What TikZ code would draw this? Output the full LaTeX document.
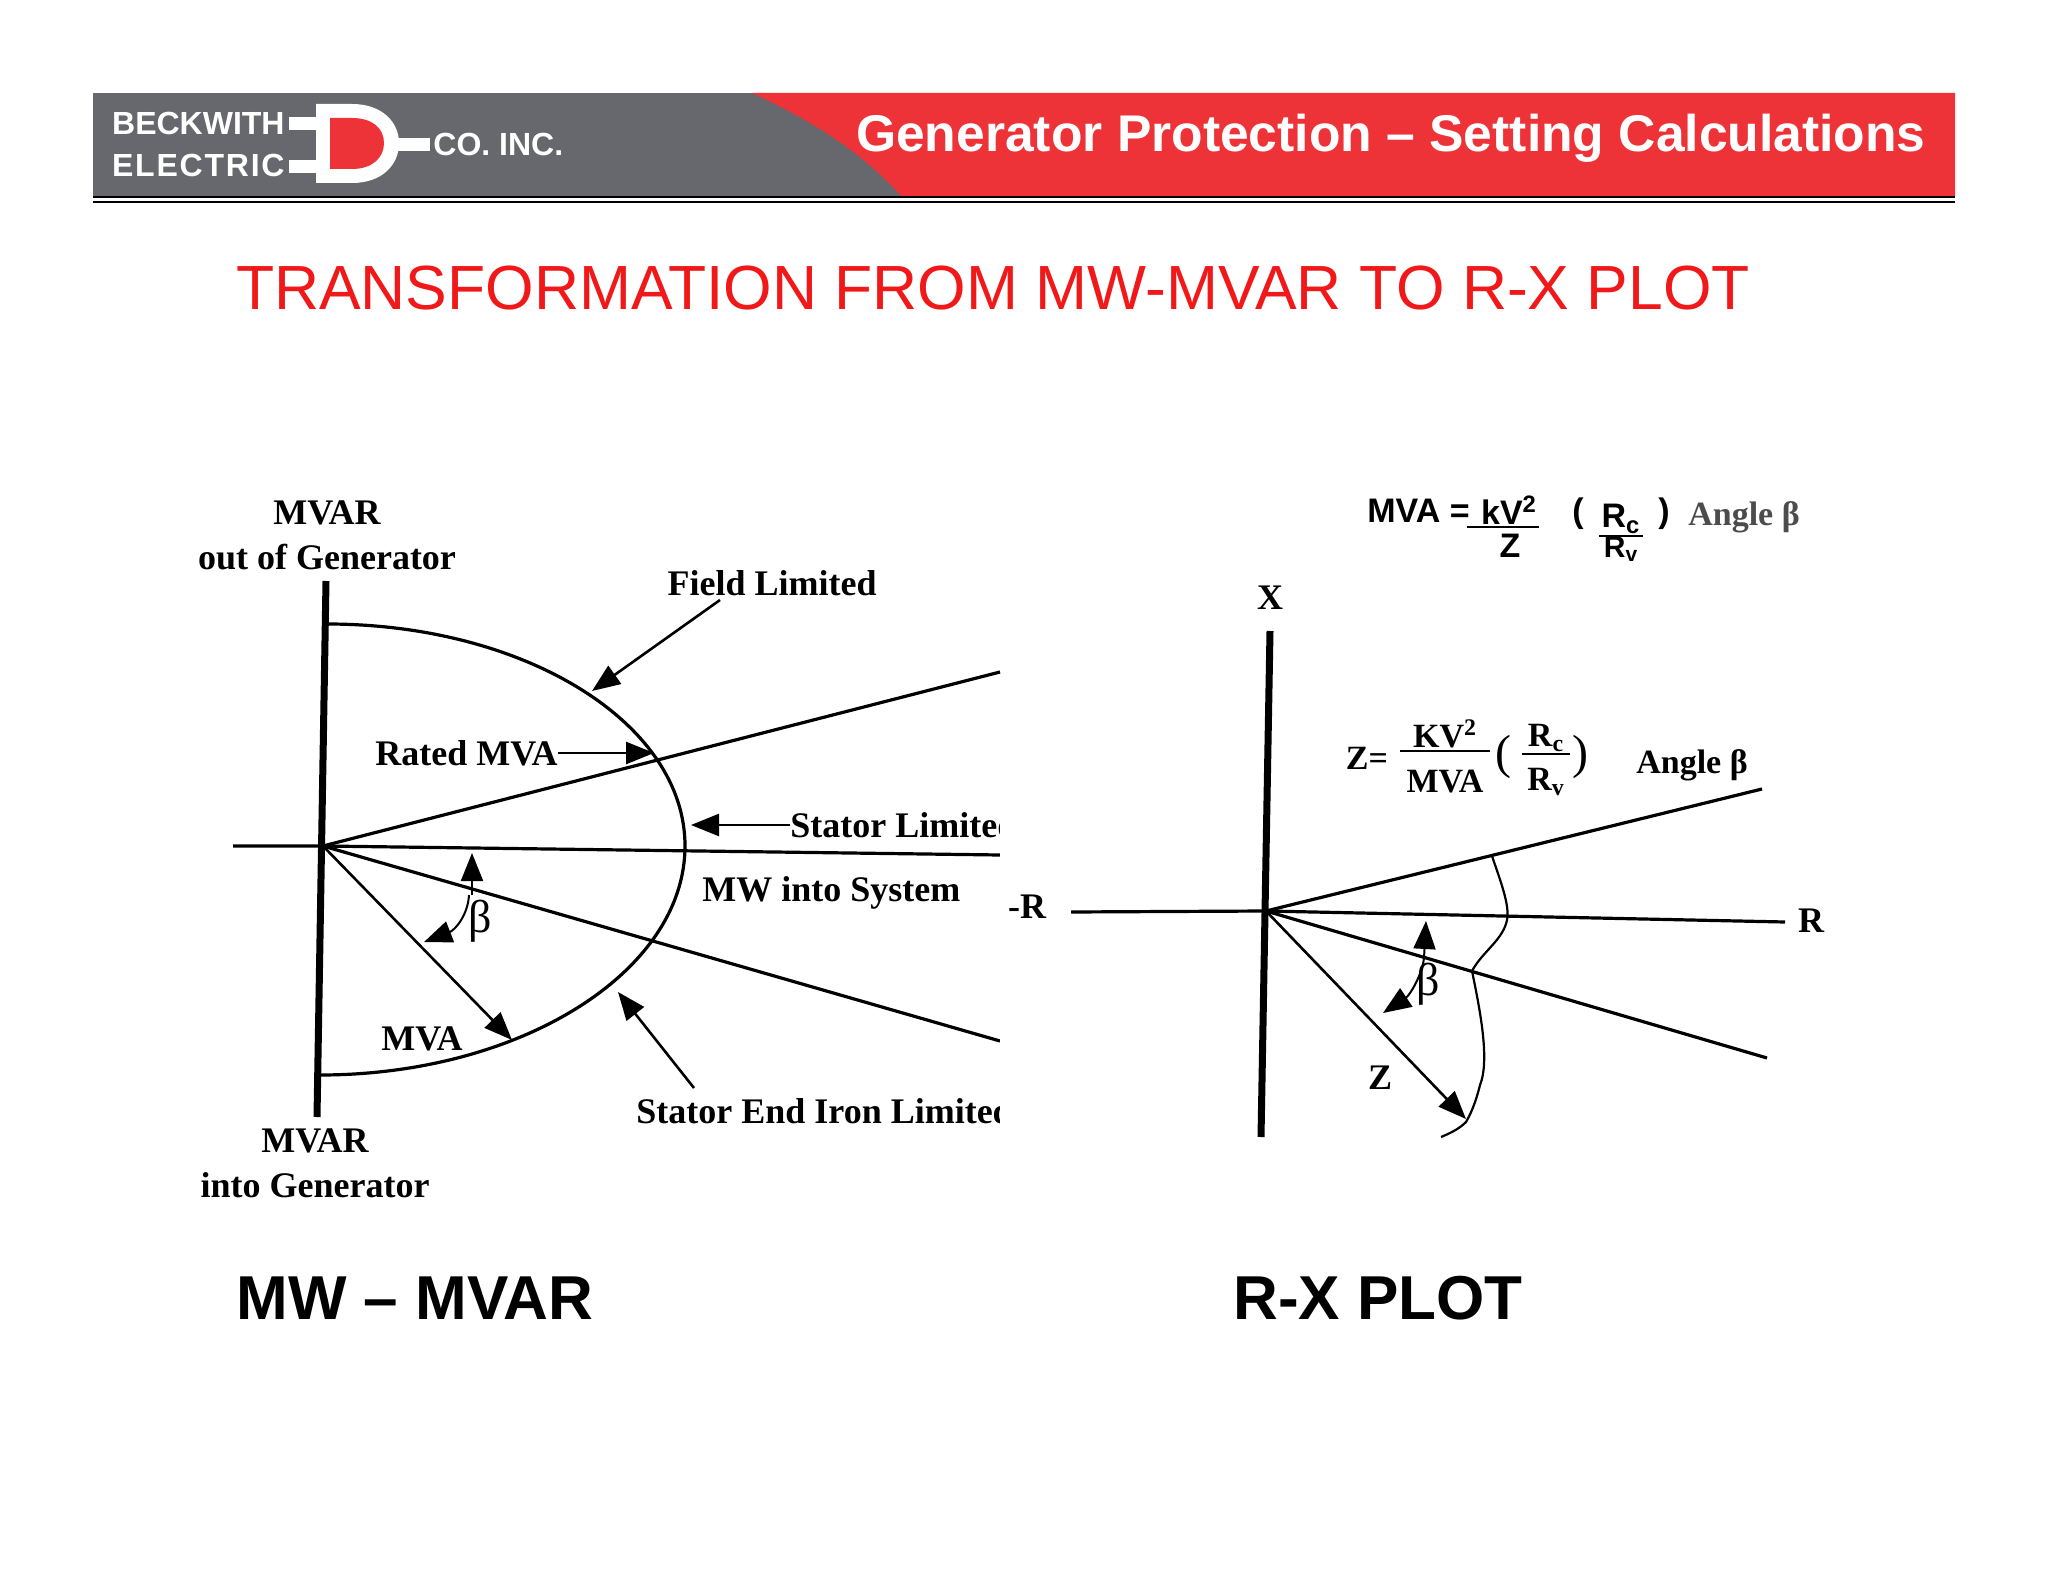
\documentclass[tikz,border=0pt]{standalone}
\usepackage{fontspec}
\setmainfont{Liberation Serif}
\setsansfont{Liberation Sans}
\usetikzlibrary{positioning, arrows.meta}
\definecolor{bannergray}{HTML}{66686D}
\definecolor{bannerred}{HTML}{EE3338}
\definecolor{titlered}{HTML}{F01818}
\tikzset{
	lab/.style={
		inner sep=0pt,
		font=\fontsize{18}{18}\selectfont\bfseries,
	},
	anglelab/.style={
		inner sep=0pt,
		font=\fontsize{17}{17}\selectfont\bfseries,
	},
	logotext/.style={
		inner sep=0pt,
		text=white,
		font=\fontsize{16}{16}\selectfont\sffamily\bfseries,
	},
	sanslab/.style={
		inner sep=0pt,
		font=\fontsize{17}{17}\selectfont\sffamily\bfseries,
	},
	caption/.style={
		inner sep=0pt,
		anchor=west,
		font=\fontsize{31}{31}\selectfont\sffamily\bfseries,
	},
	axis/.style={
		line width=3.5pt,
	},
	ray/.style={
		line width=1.6pt,
	},
	thin ray/.style={
		line width=1.1pt,
	},
	pointer/.style={
		line width=1.3pt,
		-{Stealth[length=14pt,width=11pt,inset=0pt]},
	},
	pin/.style={
		fill=white,
		draw=none,
	},
}

\begin{document}
\begin{tikzpicture}[x=0.5pt, y=-0.5pt, >=stealth]
		\useasboundingbox (0,0) rectangle (2048,1582);
		% banner
		\fill [bannergray] (93,93) rectangle (1955,196);
		\fill [bannerred] (752,93) -- (1955,93) -- (1955,196) -- (901,196) .. controls (860,150) and (810,120) .. (752,93) -- cycle;
		\fill [black] (93,196) rectangle (1955,198);
		\fill [black] (93,201) rectangle (1955,203.5);
		\fill [pin] (289,117) rectangle (320,130);
		\fill [pin] (289,160) rectangle (320,173);
		\fill [pin] (395,138) rectangle (430,151);
		\fill [pin] (316,104) -- (352,104) .. controls (382,104) and (399,122) .. (399,143) .. controls (399,165) and (382,183) .. (352,183) -- (316,183) -- cycle;
		\fill [bannerred] (330,118) -- (352,118) .. controls (372,118) and (384,128) .. (384,143) .. controls (384,158) and (372,169) .. (352,169) -- (330,169) -- cycle;
		\node [logotext, anchor=east] (beck) at (285,123) {BECKWITH};
		\node [logotext, anchor=east] (elec) at (285,165) {\addfontfeature{LetterSpace=5.6}ELECTRIC};
		\node [logotext, anchor=west] (coinc) at (433,144) {CO. INC.};
		\node [inner sep=0pt, anchor=east, text=white, font=\fontsize{25.8}{25.8}\selectfont\sffamily\bfseries] (head) at (1926,138) {Generator Protection -- Setting Calculations};
		\node [inner sep=0pt, text=titlered, font=\fontsize{31.2}{31.2}\selectfont\sffamily] (title) at (993,288) {TRANSFORMATION FROM MW-MVAR TO R-X PLOT};

		% MW-MVAR plot
		\coordinate (o1) at (323,846);
		\coordinate (top1) at (326,581);
		\coordinate (bot1) at (317,1117);
		\coordinate (west1) at (233,846);
		\coordinate (east1) at (1000,855);
		\coordinate (up1) at (1000,672);
		\coordinate (down1) at (1000,1041);
		\coordinate (cap1) at (512,1040);
		\draw [axis] (top1) -- (bot1);
		\draw [ray] (west1) -- (o1) -- (east1);
		\draw [ray] (o1) -- (up1);
		\draw [ray] (o1) -- (down1);
		\draw [ray] (327,624) .. controls (525,624) and (685,723) .. (685,846) .. controls (685,972) and (520,1075) .. (320,1075);
		\draw [pointer] (o1) -- (cap1);
		\draw [pointer, line width=1pt] (472,895) -- (472,853);
		\draw [pointer, line width=1pt] (469,895) .. controls (468,915) and (455,930) .. (424,942);

		\node [lab] (mvar1) at (327,513) {MVAR};
		\node [lab, below of = mvar1, node distance=22pt] (outgen) {out of Generator};
		\node [lab] (mvar2) at (315,1141) {MVAR};
		\node [lab, below of = mvar2, node distance=22pt] (intogen) {into Generator};
		\node [lab] (field) at (772,583) {Field Limited};
		\node [lab, anchor=east] (rated) at (558,753) {Rated MVA};
		\node [lab, anchor=west] (stator) at (790,825) {Stator Limited};
		\node [lab, anchor=west] (mwinto) at (702,893) {MW into System};
		\node [lab] (mva1) at (422,1039) {MVA};
		\node [lab, anchor=west] (endiron) at (636,1111) {Stator End Iron Limited};
		\node [inner sep=0pt, font=\fontsize{23}{23}\selectfont] (beta1) at (480,921) {β};
		\coordinate (fieldtip) at (592,691);
		\coordinate (ratedtip) at (654,758);
		\coordinate (statortip) at (691,822);
		\coordinate (irontip) at (618,992);
		\coordinate (ironfoot) at (694,1088);
		\draw [pointer] (720,600) -- (fieldtip);
		\draw [pointer] (rated.east) -- (rated.east -| ratedtip);
		\draw [pointer] (stator.west) -- (stator.west -| statortip);
		\draw [pointer] (ironfoot) -- (irontip);
		% the scan stops here
		\fill [white] (1000,780) rectangle (1040,1140);

		% R-X plot
		\coordinate (o2) at (1266,911);
		\coordinate (top2) at (1270,631);
		\coordinate (bot2) at (1261,1137);
		\coordinate (west2) at (1071,912);
		\coordinate (east2) at (1785,922);
		\coordinate (up2) at (1762,789);
		\coordinate (down2) at (1767,1058);
		\coordinate (cap2) at (1466,1119);
		\draw [axis] (top2) -- (bot2);
		\draw [ray] (west2) -- (o2) -- (east2);
		\draw [ray] (o2) -- (up2);
		\draw [ray] (o2) -- (down2);
		\draw [thin ray] (1492,856) .. controls (1500,880) and (1510,905) .. (1507,920) .. controls (1503,940) and (1482,952) .. (1472,971);
		\draw [thin ray] (1472,971) .. controls (1480,1010) and (1490,1060) .. (1480,1085) .. controls (1475,1105) and (1470,1115) .. (1466,1122) .. controls (1458,1130) and (1448,1134) .. (1441,1137);
		\draw [pointer] (o2) -- (cap2);
		\draw [pointer, line width=1pt] (1424,958) -- (1426,921);
		\draw [pointer, line width=1pt] (1424,958) .. controls (1422,975) and (1410,995) .. (1383,1013);

		\node [lab] (xlab) at (1270,598) {X};
		\node [lab] (mrlab) at (1027,907) {-R};
		\node [lab] (rlab) at (1811,921) {R};
		\node [lab] (zlab) at (1380,1078) {Z};
		\node [inner sep=0pt, font=\fontsize{23}{23}\selectfont] (beta2) at (1428,984) {β};
		\node [anglelab] (zeq) at (1367,758) {Z=};
		\node [anglelab, inner sep=1pt, minimum width=45pt] (kv) at (1445,734) {KV\textsuperscript{2}};
		\node [anglelab, below of = kv, node distance=24pt] (mvab) {MVA};
		\node [anglelab, minimum width=24pt, inner sep=1pt] (rc) at (1546,738) {R\textsubscript{c}};
		\node [anglelab, below of = rc, node distance=22pt] (rv) {R\textsubscript{v}};
		\node [lab, font=\fontsize{24}{24}\selectfont] (lp) at (1503,757) {(};
		\node [lab, font=\fontsize{24}{24}\selectfont] (rp) at (1580,757) {)};
		\node [anglelab] (angle2) at (1692,765) {Angle β};
		\draw [line width=1pt] (kv.south west) -- (kv.south east);
		\draw [line width=1pt] (rc.south west) -- (rc.south east);

		% formula on top
		\node [sanslab, anchor=west] (mvaeq) at (1367,511) {MVA =};
		\node [sanslab, minimum width=33pt, inner sep=1pt] (kv2) at (1503,510) {\hspace{6pt}kV\textsuperscript{2}};
		\node [sanslab, below of = kv2, node distance=18pt, xshift=3.5pt] (z2) {Z};
		\node [sanslab] (lp2) at (1578,514) {(};
		\node [sanslab, minimum width=17pt, inner sep=1pt] (rc2) at (1621,519) {R\textsubscript{c}};
		\node [inner sep=0pt, font=\fontsize{15}{15}\selectfont\sffamily\bfseries, below of = rc2, node distance=15pt] (rv2) {R\textsubscript{v}};
		\node [sanslab] (rp2) at (1664,514) {)};
		\node [anglelab, text=black!70] (angle1) at (1744,517) {Angle β};
		\draw [line width=1pt] (kv2.south west) -- (kv2.south east);
		\draw [line width=1pt] (rc2.south west) -- (rc2.south east);

		\node [caption] (capl) at (236,1298) {MW -- MVAR};
		\node [caption] (capr) at (1233,1298) {R-X PLOT};
	\end{tikzpicture}
\end{document}
